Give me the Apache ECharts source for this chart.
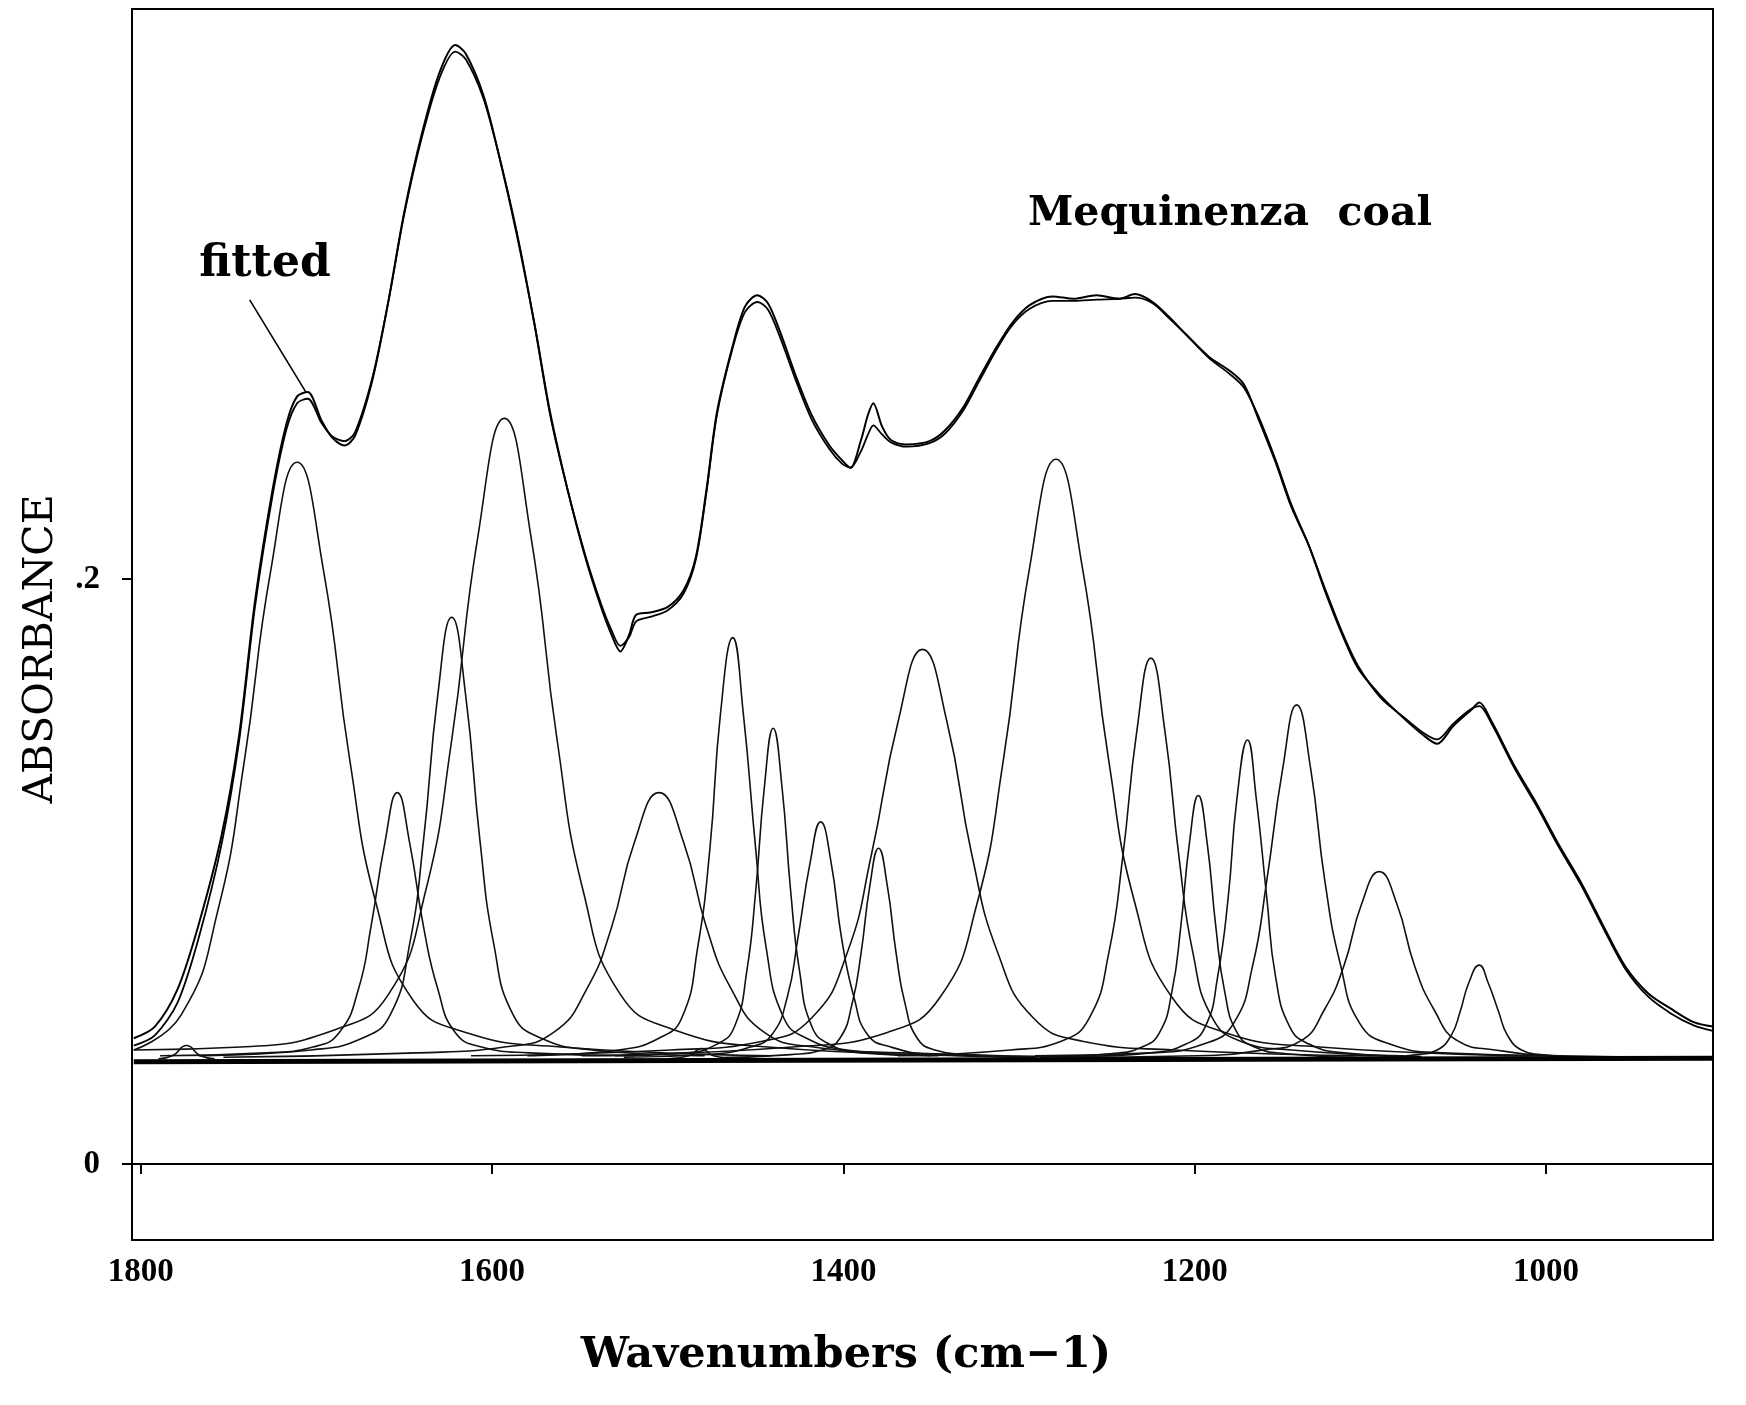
<!DOCTYPE html>
<html>
<head>
<meta charset="utf-8">
<script src="https://cdn.jsdelivr.net/npm/echarts@6/dist/echarts.min.js"></script>
<style>
  html, body { margin: 0; padding: 0; background: #fff; }
  #chart { width: 1746px; height: 1405px; }
</style>
<title>Mequinenza coal - curve fitting</title>
</head>
<body>
<div id="chart"></div>
<script type="text/javascript">

// wavenumbers for the total spectrum (cm-1)
var wn = [1804,1792,1779,1767,1754,1744,1735,1725,1717,1711,1705,1697,1691,1684,1678,1668,1659,1650,1640,1630,
  1621,1615,1605,1596,1586,1576,1567,1557,1547,1538,1532,1527,1522,1518,1510,1500,1491,1484,1478,1472,
  1463,1456,1449,1443,1436,1427,1418,1408,1401,1396,1390,1386,1383,1378,1373,1364,1351,1342,1332,1323,
  1313,1304,1294,1281,1269,1256,1243,1234,1224,1215,1205,1192,1180,1172,1164,1154,1145,1135,1126,1116,
  1107,1094,1081,1070,1062,1053,1043,1038,1031,1018,1005,993,980,967,955,942,929,916,905];

// measured absorbance
var observed = [0.0430,0.0470,0.0599,0.0820,0.1124,0.1467,0.1924,0.2305,0.2533,0.2625,0.2640,0.2541,0.2484,0.2457,0.2491,0.2685,0.2952,0.3256,0.3523,0.3732,
  0.3827,0.3797,0.3656,0.3447,0.3180,0.2876,0.2571,0.2305,0.2076,0.1905,0.1810,0.1753,0.1810,0.1878,0.1886,0.1905,0.1962,0.2076,0.2305,0.2571,
  0.2799,0.2933,0.2971,0.2944,0.2845,0.2693,0.2560,0.2457,0.2408,0.2381,0.2476,0.2563,0.2602,0.2522,0.2476,0.2461,0.2472,0.2510,0.2586,0.2685,
  0.2792,0.2876,0.2937,0.2967,0.2959,0.2971,0.2959,0.2975,0.2948,0.2899,0.2837,0.2761,0.2712,0.2666,0.2552,0.2400,0.2247,0.2114,0.1962,0.1810,
  0.1695,0.1600,0.1524,0.1467,0.1437,0.1497,0.1551,0.1578,0.1513,0.1361,0.1228,0.1094,0.0961,0.0809,0.0676,0.0584,0.0531,0.0485,0.0470];

// fitted sum of bands
var fitted = [0.0405,0.0440,0.0553,0.0774,0.1094,0.1448,0.1905,0.2286,0.2514,0.2602,0.2617,0.2533,0.2488,0.2472,0.2503,0.2693,0.2952,0.3249,0.3511,0.3713,
  0.3804,0.3778,0.3645,0.3447,0.3188,0.2876,0.2563,0.2305,0.2083,0.1916,0.1825,0.1772,0.1802,0.1856,0.1871,0.1894,0.1951,0.2068,0.2297,0.2563,
  0.2792,0.2914,0.2948,0.2922,0.2826,0.2678,0.2545,0.2445,0.2396,0.2381,0.2438,0.2495,0.2526,0.2495,0.2468,0.2453,0.2465,0.2499,0.2575,0.2674,
  0.2784,0.2868,0.2925,0.2952,0.2952,0.2956,0.2959,0.2963,0.2944,0.2895,0.2837,0.2757,0.2701,0.2655,0.2560,0.2408,0.2255,0.2114,0.1970,0.1817,
  0.1703,0.1593,0.1528,0.1475,0.1452,0.1505,0.1555,0.1566,0.1505,0.1353,0.1220,0.1086,0.0953,0.0801,0.0668,0.0573,0.0515,0.0474,0.0455];

// individual bands [wavenumber, absorbance]
var band1774 = [[1790,0.036],[1782,0.037],[1774,0.0405],[1766,0.037],[1758,0.036]];
var band1711 = [[1804,0.039],[1777,0.051],[1756,0.087],[1741,0.138],[1726,0.203],[1711,0.240],[1696,0.203],[1681,0.138],[1666,0.089],[1645,0.056],[1615,0.045],[1561,0.040],[1441,0.037]];
var band1654 = [[1789,0.037],[1729,0.038],[1702,0.040],[1687,0.045],[1676,0.060],[1669,0.081],[1661,0.110],[1654,0.127],[1647,0.110],[1639,0.081],[1631,0.060],[1621,0.045],[1606,0.040],[1579,0.038],[1519,0.037]];
var band1623 = [[1767,0.037],[1703,0.039],[1674,0.043],[1658,0.051],[1647,0.075],[1639,0.111],[1631,0.160],[1623,0.187],[1615,0.160],[1607,0.111],[1599,0.075],[1588,0.051],[1572,0.043],[1543,0.039],[1479,0.037]];
var band1593 = [[1804,0.039],[1743,0.040],[1689,0.046],[1659,0.058],[1638,0.093],[1623,0.145],[1608,0.215],[1593,0.255],[1578,0.215],[1563,0.145],[1548,0.093],[1527,0.058],[1497,0.046],[1443,0.040],[1323,0.037]];
var band1505 = [[1753,0.0365],[1643,0.038],[1593,0.040],[1565,0.045],[1546,0.060],[1532,0.081],[1519,0.110],[1505,0.127],[1491,0.110],[1478,0.081],[1464,0.060],[1445,0.045],[1417,0.040],[1367,0.038],[1257,0.0365]];
var band1481 = [[1500,0.036],[1488,0.037],[1481,0.0395],[1474,0.037],[1462,0.036]];
var band1463 = [[1580,0.037],[1528,0.039],[1505,0.043],[1492,0.050],[1483,0.074],[1476,0.108],[1470,0.154],[1463,0.180],[1457,0.154],[1450,0.108],[1444,0.074],[1434,0.050],[1421,0.043],[1398,0.039],[1346,0.037]];
var band1440 = [[1530,0.037],[1490,0.038],[1472,0.041],[1462,0.047],[1455,0.066],[1450,0.093],[1445,0.129],[1440,0.149],[1435,0.129],[1430,0.093],[1425,0.066],[1418,0.047],[1408,0.041],[1390,0.038],[1350,0.037]];
var band1413 = [[1525,0.0365],[1476,0.0375],[1453,0.040],[1441,0.044],[1432,0.057],[1426,0.077],[1419,0.103],[1413,0.117],[1407,0.103],[1401,0.077],[1394,0.057],[1386,0.044],[1373,0.040],[1351,0.0375],[1301,0.0365]];
var band1380 = [[1470,0.0364],[1430,0.0374],[1412,0.039],[1402,0.043],[1395,0.055],[1390,0.072],[1385,0.095],[1380,0.108],[1375,0.095],[1370,0.072],[1365,0.055],[1358,0.043],[1348,0.039],[1330,0.0374],[1290,0.0364]];
var band1355 = [[1612,0.037],[1498,0.039],[1446,0.042],[1418,0.050],[1398,0.072],[1384,0.106],[1369,0.151],[1355,0.176],[1341,0.151],[1327,0.106],[1312,0.072],[1292,0.050],[1264,0.042],[1212,0.039],[1098,0.037]];
var band1279 = [[1549,0.037],[1429,0.040],[1375,0.045],[1345,0.057],[1324,0.089],[1309,0.138],[1294,0.204],[1279,0.241],[1264,0.204],[1249,0.138],[1234,0.089],[1213,0.057],[1183,0.045],[1129,0.040],[1009,0.037]];
var band1225 = [[1369,0.037],[1305,0.039],[1276,0.042],[1260,0.050],[1249,0.072],[1241,0.105],[1233,0.148],[1225,0.173],[1217,0.148],[1209,0.105],[1201,0.072],[1190,0.050],[1174,0.042],[1145,0.039],[1081,0.037]];
var band1198 = [[1288,0.0365],[1248,0.0377],[1230,0.040],[1220,0.045],[1213,0.059],[1208,0.081],[1203,0.110],[1198,0.126],[1193,0.110],[1188,0.081],[1183,0.059],[1176,0.045],[1166,0.040],[1148,0.0377],[1108,0.0365]];
var band1170 = [[1269,0.0367],[1225,0.038],[1205,0.041],[1194,0.047],[1187,0.064],[1181,0.091],[1176,0.125],[1170,0.145],[1165,0.125],[1159,0.091],[1154,0.064],[1146,0.047],[1135,0.041],[1115,0.038],[1071,0.0367]];
var band1142 = [[1291,0.037],[1225,0.038],[1195,0.041],[1178,0.048],[1167,0.068],[1159,0.097],[1150,0.135],[1142,0.157],[1134,0.135],[1126,0.097],[1117,0.068],[1106,0.048],[1089,0.041],[1059,0.038],[993,0.037]];
var band1095 = [[1280,0.0364],[1198,0.037],[1161,0.039],[1140,0.042],[1126,0.053],[1115,0.068],[1105,0.089],[1095,0.100],[1085,0.089],[1075,0.068],[1064,0.053],[1050,0.042],[1029,0.039],[992,0.037],[910,0.0364]];
var band1038 = [[1137,0.0362],[1093,0.0366],[1073,0.0374],[1062,0.039],[1054,0.044],[1049,0.052],[1044,0.062],[1038,0.068],[1033,0.062],[1027,0.052],[1022,0.044],[1014,0.039],[1003,0.0374],[983,0.0366],[939,0.0362]];

// common baseline under the bands
var baseline = [[1804,0.0350],[905,0.0362]];

// "fitted" pointer
var pointer = [[1738,0.2955],[1706,0.2640]];

var xTicks = [1800, 1600, 1400, 1200, 1000];
var yTicks = [0, 0.2];

var bands = [band1774, band1711, band1654, band1623, band1593, band1505, band1481, band1463, band1440,
  band1413, band1380, band1355, band1279, band1225, band1198, band1170, band1142, band1095, band1038];

var serif = "'DejaVu Serif', 'Liberation Serif', serif";

function toPairs(xs, ys) {
  return xs.map(function (x, i) { return [x, ys[i]]; });
}

var series = [];
bands.forEach(function (b) {
  series.push({
    type: 'line', data: b, showSymbol: false, smooth: 0.5,
    lineStyle: { color: '#111', width: 1.6 }, silent: true
  });
});
series.push({
  type: 'line', data: baseline, showSymbol: false,
  lineStyle: { color: '#000', width: 5 }, silent: true
});
series.push({
  type: 'line', data: toPairs(wn, observed), showSymbol: false, smooth: 0.3,
  lineStyle: { color: '#000', width: 2 }, silent: true
});
series.push({
  type: 'line', data: toPairs(wn, fitted), showSymbol: false, smooth: 0.3,
  lineStyle: { color: '#000', width: 1.8 }, silent: true
});
series.push({
  type: 'line', data: pointer, showSymbol: false,
  lineStyle: { color: '#000', width: 1.6 }, silent: true
});

var option = {
  backgroundColor: '#fff',
  animation: false,
  grid: {
    left: 132, right: 33, top: 9, bottom: 165,
    show: true, borderColor: '#000', borderWidth: 2, backgroundColor: 'transparent'
  },
  xAxis: {
    type: 'value', min: 905, max: 1805, inverse: true,
    axisLine: { show: true, lineStyle: { color: '#000', width: 2 } },
    axisTick: { show: true, inside: false, length: 10, customValues: xTicks, lineStyle: { color: '#000', width: 2 } },
    axisLabel: {
      customValues: xTicks, margin: 16, color: '#000',
      fontFamily: "'Liberation Serif', serif", fontWeight: 'bold', fontSize: 33,
      formatter: function (v) { return String(v); }
    },
    splitLine: { show: false }
  },
  yAxis: {
    type: 'value', min: -0.026, max: 0.395,
    axisLine: { show: true, lineStyle: { color: '#000', width: 2 } },
    axisTick: { show: true, inside: false, length: 10, customValues: yTicks, lineStyle: { color: '#000', width: 2 } },
    axisLabel: {
      customValues: yTicks, margin: 32, color: '#000',
      fontFamily: "'Liberation Serif', serif", fontWeight: 'bold', fontSize: 33,
      formatter: function (v) { return v === 0 ? '0' : String(v).replace(/^0/, ''); }
    },
    splitLine: { show: false }
  },
  graphic: [
    {
      type: 'text', x: 41, y: 649, rotation: Math.PI / 2,
      style: { text: 'ABSORBANCE', fill: '#000', font: "41px " + serif, align: 'center', verticalAlign: 'middle' }
    },
    {
      type: 'text', x: 846, y: 1356,
      style: { text: 'Wavenumbers (cm\u22121)', fill: '#000', font: "bold 43px " + serif, align: 'center', verticalAlign: 'middle' }
    },
    {
      type: 'text', x: 1230, y: 214,
      style: { text: 'Mequinenza  coal', fill: '#000', font: "bold 41px " + serif, align: 'center', verticalAlign: 'middle' }
    },
    {
      type: 'text', x: 265, y: 265,
      style: { text: 'fitted', fill: '#000', font: "bold 44px " + serif, align: 'center', verticalAlign: 'middle' }
    }
  ],
  series: series
};

var myChart = echarts.init(document.getElementById('chart'));
myChart.setOption(option);
</script>
</body>
</html>
